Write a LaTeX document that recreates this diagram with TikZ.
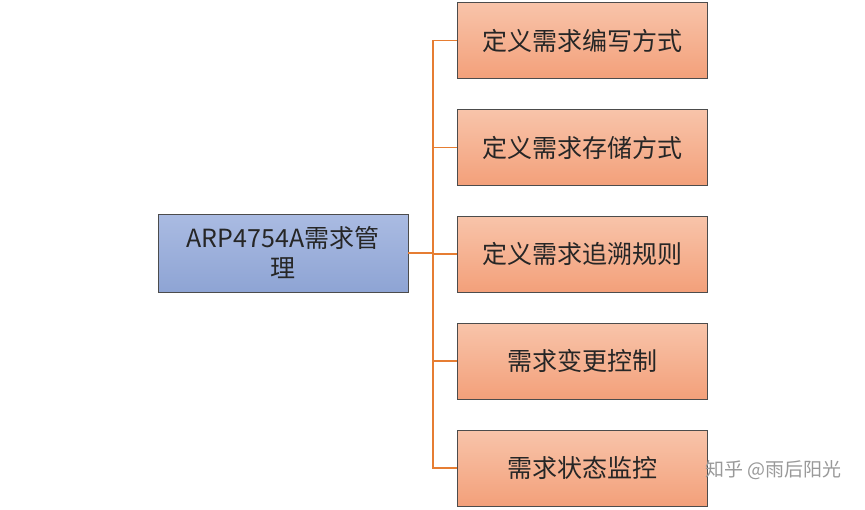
\documentclass[tikz,border=0pt]{standalone}
\usepackage{fontspec}
\setmainfont{Noto Sans CJK SC}
\begin{document}
\begin{tikzpicture}[x=1pt,y=-1pt,
  rbox/.style={draw=black!70,line width=0.6pt,top color={rgb,255:red,248;green,196;blue,170},bottom color={rgb,255:red,243;green,160;blue,122},minimum width=250pt,minimum height=76pt,inner sep=0pt,font=\fontsize{25}{30}\selectfont,text=black!85},
  lbox/.style={draw=black!70,line width=0.6pt,top color={rgb,255:red,170;green,187;blue,226},bottom color={rgb,255:red,142;green,164;blue,212},minimum width=250pt,minimum height=78pt,inner sep=0pt,font=\fontsize{25}{30}\selectfont,text=black!85,align=center,text width=240pt},
  conn/.style={draw={rgb,255:red,230;green,125;blue,50},line width=1.6pt}]
\useasboundingbox (0,0) rectangle (865,509);
\node[lbox] (m) at (283,253) {ARP4754A需求管\\理};
\node[rbox] (a) at (582,40.5) {定义需求编写方式};
\node[rbox] (b) at (582,147.5) {定义需求存储方式};
\node[rbox] (c) at (582,254) {定义需求追溯规则};
\node[rbox] (d) at (582,361) {需求变更控制};
\node[rbox] (e) at (582,468) {需求状态监控};
\coordinate (j) at (433,253);
\draw[conn] (m.east) -- (j);
\foreach \n in {a,b,c,d,e} \draw[conn] (j) |- (\n.west);
\node[text=black!40,font=\fontsize{19}{22}\selectfont,anchor=east] (w) at (845,470) {知乎 @雨后阳光};
\end{tikzpicture}
\end{document}
